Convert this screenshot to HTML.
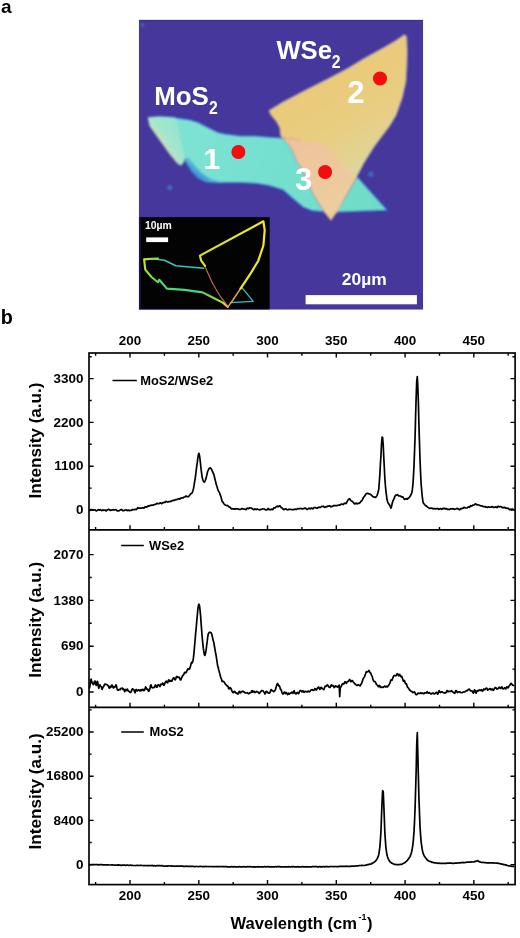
<!DOCTYPE html>
<html lang="en">
<head>
<meta charset="utf-8">
<title>Figure: MoS2/WSe2 heterostructure Raman spectra</title>
<style>
html,body{margin:0;padding:0;background:#fff;}
body{width:520px;height:938px;overflow:hidden;font-family:"Liberation Sans", Arial, Helvetica, sans-serif;}
svg{display:block;}
</style>
</head>
<body>
<svg width="520" height="938" viewBox="0 0 520 938">
<rect width="520" height="938" fill="#fff"/>
<defs>
<clipPath id="imgclip"><rect x="138.8" y="19.7" width="284.4" height="290"/></clipPath>
<clipPath id="insclip"><rect x="138.8" y="217" width="130.7" height="92.7"/></clipPath>
<filter id="soft" x="-5%" y="-5%" width="110%" height="110%"><feGaussianBlur stdDeviation="0.8"/></filter>
<filter id="soft2" x="-5%" y="-5%" width="110%" height="110%"><feGaussianBlur stdDeviation="0.45"/></filter>
<filter id="soft3" x="-20%" y="-20%" width="140%" height="140%"><feGaussianBlur stdDeviation="1.2"/></filter>
<linearGradient id="gW" gradientUnits="userSpaceOnUse" x1="300" y1="60" x2="370" y2="180">
<stop offset="0" stop-color="#ebc976"/><stop offset="0.55" stop-color="#e9cd80"/><stop offset="0.8" stop-color="#e2d392"/><stop offset="1" stop-color="#d6d9a6"/></linearGradient>
<linearGradient id="gM" gradientUnits="userSpaceOnUse" x1="150" y1="120" x2="390" y2="200">
<stop offset="0" stop-color="#80e3d2"/><stop offset="0.5" stop-color="#76e0d0"/><stop offset="1" stop-color="#70dcc6"/></linearGradient>
<linearGradient id="gFlap" gradientUnits="userSpaceOnUse" x1="156" y1="142" x2="176" y2="128">
<stop offset="0" stop-color="#d9dcae"/><stop offset="0.22" stop-color="#c6e0b8"/><stop offset="0.42" stop-color="#a6e6cc"/><stop offset="1" stop-color="#98e6d0"/></linearGradient>
<linearGradient id="gBand" gradientUnits="userSpaceOnUse" x1="192" y1="174" x2="199" y2="165">
<stop offset="0" stop-color="#3a86d4"/><stop offset="1" stop-color="#5cc4d6"/></linearGradient>
<linearGradient id="gOv" gradientUnits="userSpaceOnUse" x1="295" y1="140" x2="335" y2="215">
<stop offset="0" stop-color="#efc39c"/><stop offset="1" stop-color="#ecce9e"/></linearGradient>
<linearGradient id="gInsW" gradientUnits="userSpaceOnUse" x1="200" y1="258" x2="265" y2="250">
<stop offset="0" stop-color="#d6e622"/><stop offset="0.7" stop-color="#e6ec26"/><stop offset="1" stop-color="#f6e42a"/></linearGradient>
<linearGradient id="gInsM" gradientUnits="userSpaceOnUse" x1="144" y1="262" x2="228" y2="305">
<stop offset="0" stop-color="#c4e62c"/><stop offset="0.2" stop-color="#5edc52"/><stop offset="0.6" stop-color="#3fd47e"/><stop offset="0.85" stop-color="#8adc40"/><stop offset="1" stop-color="#e6e628"/></linearGradient>
</defs>
<g clip-path="url(#imgclip)">
<rect x="138.8" y="19.7" width="284.4" height="290" fill="#46379c"/><rect x="138.8" y="19.7" width="284.4" height="1.3" fill="#3a2c8c"/>
<g filter="url(#soft)">
<!-- MoS2 flake -->
<g transform="translate(0.2 1.1)">
<polygon fill="url(#gM)" stroke="#3450c4" stroke-width="1.5" stroke-linejoin="round" points="147.7,116.3 159.2,115.4 174.6,116.3 188,118.3 197.7,121 207.3,126 217,130.8 224.6,132.7 240,134.6 255,134.6 266.5,135.6 282.5,136.6 301,138.8 320,140.5 335,152.5 347.5,167.5 357.5,176 387.5,209.5 352,210.6 336,211.3 323.8,211 312.5,210 302.5,206 292.5,197.5 282.5,188.8 270,185 257,182.6 240,181.7 220.8,181.7 205.4,180.8 197.7,177 192,171 186,161.5 184.6,157.7 183.3,161.5 180.4,164.4 176.5,161.5 168.8,152 159.2,138.5 149.6,125"/>
<!-- thin-layer band -->
<polygon fill="url(#gBand)" points="184.6,157.7 188.5,156.5 196,166 203.5,173.5 212,178.2 222,180.5 222,181.7 205.4,180.8 197.7,177 192,171 186,161.5"/>
<!-- flap -->
<polygon fill="url(#gFlap)" points="147.7,116.3 159.2,115.4 174.6,116.3 176.5,119.5 180.4,138.5 184.6,157.7 183.3,161.5 180.4,164.4 176.5,161.5 168.8,152 159.2,138.5 149.6,125"/>
</g>
<!-- WSe2 flake -->
<polygon fill="url(#gW)" stroke="#3c48b8" stroke-width="1" stroke-linejoin="round" points="404.6,34.2 407,36.4 407.6,51 407.1,68.3 406.2,82 402.7,97.7 396.6,115 390,126 375,146 364.6,162.5 357.5,176 345,197.5 331,220.5 323.8,211 313.8,195 302.5,170 296.3,160 291.5,148.5 283.8,138.8 280,135.5 279.6,128 276,121.5 270.4,114.8 268.4,110.6 283,101.6 306.2,89.4 329.2,77.8 347.3,68.2 364.6,57.8 382,48.2 395.8,40.2"/>
<!-- overlap -->
<polygon fill="url(#gOv)" points="282.5,138.4 301,140.4 320,142.2 334.6,154 347,169 356.6,177.2 345,197.5 336.4,212.4 331,220.2 324.8,212.4 313.8,195 302.5,170 296.3,160 291.5,148.5 283.8,138.8"/>
<polygon fill="#e8cb90" points="325,212.7 336.2,212.7 331,220.2"/>
<path d="M281 137.7 L301 139.9" stroke="#e79d8c" stroke-width="1" fill="none"/>
</g>
<!-- specks -->
<g filter="url(#soft3)">
<circle cx="169.8" cy="187.5" r="2.6" fill="#3d6ec4"/>
<circle cx="371" cy="174" r="2.6" fill="#3d6ec4"/>
<circle cx="142.5" cy="25" r="1.6" fill="#4f72c6"/>
</g>
<!-- labels -->
<g filter="url(#soft2)" font-family='"Liberation Sans", Arial, Helvetica, sans-serif' font-weight="700" fill="#fff">
<text x="154.2" y="104.9" font-size="25" textLength="54.6" lengthAdjust="spacingAndGlyphs">MoS</text>
<text x="209.0" y="114.2" font-size="19" textLength="8.8" lengthAdjust="spacingAndGlyphs">2</text>
<text x="276.4" y="58.8" font-size="25" textLength="55.6" lengthAdjust="spacingAndGlyphs">WSe</text>
<text x="331.8" y="67.7" font-size="19" textLength="8.8" lengthAdjust="spacingAndGlyphs">2</text>
<text x="211.8" y="169.2" font-size="30" text-anchor="middle">1</text>
<text x="355.8" y="103" font-size="31" text-anchor="middle">2</text>
<text x="303.6" y="190" font-size="31" text-anchor="middle">3</text>
<circle cx="238.4" cy="152" r="7" fill="#f40808"/>
<circle cx="380" cy="78.5" r="7" fill="#f40808"/>
<circle cx="325.1" cy="172" r="7" fill="#f40808"/>
<text x="341.8" y="285.2" font-size="16" textLength="45" lengthAdjust="spacingAndGlyphs">20µm</text>
<rect x="305.6" y="295.1" width="111.3" height="9.2"/>
</g>
<!-- inset -->
<rect x="138.8" y="217" width="130.7" height="92.7" fill="#16124a"/><rect x="140.9" y="217.4" width="128.6" height="91.4" fill="#030303"/>
<g clip-path="url(#insclip)">
<g filter="url(#soft2)" fill="none" stroke-linejoin="round" stroke-linecap="round">
<polyline stroke="#39c4c4" stroke-width="1.6" points="151.7,258.7 164.4,260.2 175.8,265.8 189.8,267 203.7,268.3"/>
<polyline stroke="#35bfd0" stroke-width="1.3" points="241.8,287.4 253.2,301.3 230.4,302.6"/>
<polyline stroke="url(#gInsM)" stroke-width="2.1" points="158,258.6 151.7,258.7 144.1,259.4 145.3,269.6 151.7,277.2 158,282.3 159.3,279.7 166.9,288.6 184.7,289.9 202.5,292.4 212.6,297.5 222.8,302.6 227.9,306.9"/>
<polyline stroke="#cf6a4a" stroke-width="1.1" points="205,265.8 206.3,269.6 212.6,283.5 220.2,296.2 227.9,306.4"/>
<polyline stroke="#e8a050" stroke-width="1.5" points="240.5,288.6 232.9,300 227.9,306.9"/>
<polyline stroke="url(#gInsW)" stroke-width="2.2" points="205,265.8 201.2,260.7 199.9,255.6 263.4,221.3 264.7,230.2 263.4,245.5 258.3,260.7 250.7,273.4 240.5,288.6"/>
</g>
<g font-family='"Liberation Sans", Arial, Helvetica, sans-serif' font-weight="700" fill="#fff">
<text x="145.0" y="229.4" font-size="10.2" textLength="26.8" lengthAdjust="spacingAndGlyphs">10µm</text>
<rect x="146.2" y="237.4" width="21.9" height="4.7"/>
</g>
</g>
</g>

<defs><filter id="cb" x="-2%" y="-2%" width="104%" height="104%"><feGaussianBlur stdDeviation="0.32"/></filter></defs>
<g filter="url(#cb)">
<g fill="none" stroke="#000" stroke-width="1.65" stroke-linecap="butt">
<rect x="89.0" y="353.0" width="426.1" height="531.6"/>
<path d="M89.0 529.8H515.1M89.0 707.4H515.1"/>
</g>
<path d="M95.6 353.0v2.7M95.6 529.8v-2.7M95.6 707.4v-2.7M95.6 884.6v-2.7M130.0 353.0v4.6M130.0 529.8v-4.6M130.0 707.4v-4.6M130.0 884.6v-4.6M164.4 353.0v2.7M164.4 529.8v-2.7M164.4 707.4v-2.7M164.4 884.6v-2.7M198.8 353.0v4.6M198.8 529.8v-4.6M198.8 707.4v-4.6M198.8 884.6v-4.6M233.2 353.0v2.7M233.2 529.8v-2.7M233.2 707.4v-2.7M233.2 884.6v-2.7M267.5 353.0v4.6M267.5 529.8v-4.6M267.5 707.4v-4.6M267.5 884.6v-4.6M301.9 353.0v2.7M301.9 529.8v-2.7M301.9 707.4v-2.7M301.9 884.6v-2.7M336.3 353.0v4.6M336.3 529.8v-4.6M336.3 707.4v-4.6M336.3 884.6v-4.6M370.7 353.0v2.7M370.7 529.8v-2.7M370.7 707.4v-2.7M370.7 884.6v-2.7M405.1 353.0v4.6M405.1 529.8v-4.6M405.1 707.4v-4.6M405.1 884.6v-4.6M439.5 353.0v2.7M439.5 529.8v-2.7M439.5 707.4v-2.7M439.5 884.6v-2.7M473.8 353.0v4.6M473.8 529.8v-4.6M473.8 707.4v-4.6M473.8 884.6v-4.6M508.2 353.0v2.7M508.2 529.8v-2.7M508.2 707.4v-2.7M508.2 884.6v-2.7M89.0 510.0h4.6M515.1 510.0h-4.6M89.0 488.1h2.7M515.1 488.1h-2.7M89.0 466.2h4.6M515.1 466.2h-4.6M89.0 444.3h2.7M515.1 444.3h-2.7M89.0 422.4h4.6M515.1 422.4h-4.6M89.0 400.5h2.7M515.1 400.5h-2.7M89.0 378.6h4.6M515.1 378.6h-4.6M89.0 356.7h2.7M515.1 356.7h-2.7M89.0 692.0h4.6M515.1 692.0h-4.6M89.0 669.1h2.7M515.1 669.1h-2.7M89.0 646.2h4.6M515.1 646.2h-4.6M89.0 623.3h2.7M515.1 623.3h-2.7M89.0 600.4h4.6M515.1 600.4h-4.6M89.0 577.5h2.7M515.1 577.5h-2.7M89.0 554.6h4.6M515.1 554.6h-4.6M89.0 864.6h4.6M515.1 864.6h-4.6M89.0 842.5h2.7M515.1 842.5h-2.7M89.0 820.4h4.6M515.1 820.4h-4.6M89.0 798.3h2.7M515.1 798.3h-2.7M89.0 776.2h4.6M515.1 776.2h-4.6M89.0 754.1h2.7M515.1 754.1h-2.7M89.0 732.0h4.6M515.1 732.0h-4.6M89.0 709.9h2.7M515.1 709.9h-2.7" fill="none" stroke="#000" stroke-width="1.4"/>
<polyline points="89.5,510.6 90.0,510.4 90.6,509.8 91.1,509.5 91.7,509.6 92.2,509.9 92.8,509.9 93.3,509.9 93.9,509.9 94.4,509.8 95.0,509.8 95.5,510.4 96.1,510.8 96.6,510.8 97.2,510.4 97.7,510.0 98.3,509.7 98.8,509.8 99.4,510.1 99.9,509.9 100.5,509.7 101.0,510.2 101.6,510.7 102.1,510.4 102.7,509.9 103.2,510.0 103.8,510.3 104.3,510.2 104.9,510.0 105.4,510.2 106.0,510.8 106.5,510.8 107.1,510.1 107.6,509.8 108.2,509.6 108.7,509.3 109.3,509.5 109.8,510.0 110.4,510.5 110.9,510.2 111.5,509.9 112.0,510.2 112.6,510.0 113.1,509.6 113.7,509.8 114.2,509.9 114.8,509.9 115.3,509.8 115.9,509.6 116.4,510.0 117.0,510.7 117.5,510.8 118.1,510.9 118.6,511.0 119.2,510.7 119.7,510.2 120.3,510.0 120.8,509.7 121.4,509.4 121.9,509.7 122.5,510.4 123.0,510.7 123.6,510.6 124.1,510.6 124.7,510.2 125.2,510.1 125.8,510.0 126.3,509.9 126.9,510.4 127.4,510.6 128.0,510.2 128.5,510.1 129.1,510.4 129.6,510.6 130.2,510.5 130.7,510.3 131.3,510.3 131.8,509.8 132.4,509.7 132.9,509.8 133.5,509.5 134.0,509.6 134.6,509.6 135.1,509.3 135.7,509.4 136.2,509.6 136.8,509.2 137.3,508.3 137.9,507.7 138.4,508.0 139.0,508.3 139.5,508.2 140.1,508.2 140.6,508.2 141.2,508.1 141.7,508.1 142.3,508.0 142.8,507.6 143.4,507.8 143.9,508.2 144.5,507.7 145.0,506.9 145.6,506.8 146.1,507.1 146.7,507.1 147.2,506.6 147.8,506.0 148.3,505.9 148.9,506.1 149.4,505.9 150.0,505.5 150.5,505.3 151.1,505.3 151.6,505.2 152.2,505.0 152.7,505.1 153.3,505.2 153.8,504.8 154.4,504.6 154.9,504.6 155.5,504.3 156.0,504.1 156.6,503.6 157.1,503.3 157.7,503.6 158.2,503.8 158.8,503.6 159.3,503.4 159.9,503.1 160.4,502.9 161.0,503.2 161.5,503.7 162.1,503.3 162.6,502.8 163.2,502.7 163.7,502.4 164.3,502.4 164.8,502.5 165.4,502.0 165.9,501.4 166.5,501.5 167.0,501.8 167.6,502.1 168.1,502.0 168.7,501.7 169.2,501.7 169.8,501.6 170.3,501.4 170.9,501.4 171.4,501.1 172.0,500.8 172.5,500.7 173.1,500.4 173.6,500.3 174.2,500.4 174.7,500.1 175.3,499.8 175.8,499.7 176.4,499.7 176.9,499.6 177.5,499.2 178.0,499.0 178.6,498.7 179.1,498.7 179.7,499.2 180.2,498.6 180.8,498.0 181.3,498.2 181.9,497.9 182.4,497.9 183.0,497.9 183.5,497.4 184.1,497.1 184.6,497.0 185.2,496.7 185.7,496.2 186.3,496.1 186.8,496.5 187.4,496.7 187.9,496.7 188.5,496.6 189.0,496.0 189.6,495.3 190.1,494.7 190.7,493.9 191.2,493.5 191.8,493.2 192.3,492.5 192.9,491.0 193.4,488.9 194.0,485.9 194.5,482.4 195.1,479.1 195.6,475.3 196.2,470.7 196.7,466.3 197.3,462.4 197.8,458.1 198.4,454.7 198.9,453.3 199.5,455.4 200.0,459.2 200.6,464.6 201.1,469.4 201.7,473.9 202.2,477.6 202.8,479.6 203.3,481.1 203.9,482.1 204.4,482.0 205.0,481.1 205.5,479.8 206.1,478.1 206.6,476.1 207.2,473.4 207.7,471.3 208.3,470.2 208.8,469.0 209.4,468.2 209.9,467.9 210.5,468.1 211.0,468.6 211.6,469.5 212.1,470.6 212.7,471.9 213.2,473.2 213.8,474.4 214.3,476.5 214.9,478.8 215.4,480.9 216.0,483.2 216.5,485.2 217.1,486.8 217.6,488.8 218.2,490.6 218.7,491.4 219.3,492.3 219.8,493.6 220.4,495.2 220.9,496.8 221.5,498.9 222.0,501.0 222.6,501.9 223.1,502.4 223.7,503.4 224.2,504.1 224.8,504.6 225.3,505.1 225.9,505.3 226.4,505.5 227.0,505.7 227.5,505.4 228.1,505.9 228.6,506.6 229.2,506.9 229.7,507.1 230.3,507.4 230.8,508.1 231.4,509.0 231.9,508.9 232.5,508.7 233.0,508.9 233.6,508.8 234.1,508.9 234.7,509.2 235.2,509.1 235.8,508.7 236.3,508.9 236.9,508.9 237.4,508.8 238.0,509.0 238.5,509.1 239.1,509.4 239.6,509.5 240.2,509.3 240.7,509.3 241.3,509.0 241.8,508.6 242.4,508.6 242.9,508.9 243.5,509.0 244.0,509.1 244.6,509.1 245.1,509.1 245.7,509.7 246.2,509.6 246.8,508.7 247.3,508.2 247.9,508.3 248.4,508.6 249.0,508.5 249.5,507.9 250.1,507.8 250.6,508.0 251.2,508.0 251.7,508.3 252.3,508.7 252.8,509.0 253.4,509.6 253.9,509.6 254.5,509.0 255.0,508.8 255.6,509.3 256.1,509.7 256.7,509.2 257.2,508.9 257.8,509.3 258.3,509.5 258.9,509.6 259.4,509.9 260.0,509.9 260.5,509.5 261.1,509.3 261.6,509.3 262.2,509.1 262.7,508.8 263.3,509.0 263.8,509.0 264.4,509.0 264.9,509.4 265.5,509.9 266.0,510.0 266.6,509.9 267.1,509.7 267.7,508.9 268.2,508.5 268.8,509.1 269.3,509.7 269.9,509.7 270.4,509.8 271.0,509.5 271.5,509.1 272.1,509.5 272.6,509.7 273.2,508.8 273.7,507.9 274.3,507.9 274.8,508.0 275.4,507.7 275.9,507.2 276.5,506.5 277.0,506.0 277.6,506.3 278.1,506.8 278.7,506.3 279.2,505.9 279.8,505.9 280.3,506.1 280.9,507.0 281.4,507.7 282.0,507.9 282.5,508.5 283.1,509.1 283.6,509.4 284.2,509.6 284.7,509.3 285.3,508.8 285.8,508.8 286.4,509.2 286.9,509.5 287.5,509.8 288.0,509.8 288.6,509.4 289.1,509.3 289.7,509.4 290.2,509.5 290.8,509.4 291.3,509.5 291.9,509.7 292.4,509.7 293.0,509.6 293.5,509.7 294.1,509.6 294.6,509.2 295.2,509.2 295.7,509.3 296.3,509.4 296.8,509.5 297.4,508.9 297.9,508.5 298.5,508.7 299.0,508.8 299.6,508.6 300.1,508.6 300.7,508.5 301.2,508.4 301.8,508.8 302.3,508.9 302.9,508.7 303.4,508.6 304.0,508.7 304.5,508.3 305.1,507.9 305.6,508.2 306.2,508.8 306.7,509.3 307.3,509.5 307.8,509.1 308.4,508.5 308.9,508.2 309.5,508.4 310.0,508.8 310.6,508.7 311.1,508.2 311.7,508.2 312.2,508.7 312.8,508.8 313.3,508.3 313.9,507.7 314.4,507.5 315.0,507.5 315.5,507.6 316.1,508.0 316.6,508.1 317.2,508.1 317.7,507.9 318.3,507.5 318.8,507.3 319.4,507.2 319.9,507.3 320.5,507.5 321.0,507.0 321.6,506.4 322.1,506.5 322.7,506.4 323.2,506.2 323.8,506.5 324.3,507.2 324.9,507.3 325.4,506.9 326.0,507.0 326.5,506.8 327.1,506.3 327.6,506.2 328.2,506.3 328.7,506.1 329.3,505.7 329.8,505.9 330.4,506.5 330.9,506.8 331.5,506.6 332.0,506.3 332.6,506.4 333.1,506.0 333.7,505.5 334.2,505.6 334.8,505.6 335.3,505.5 335.9,505.6 336.4,505.7 337.0,505.5 337.5,505.3 338.1,505.4 338.6,505.2 339.2,505.1 339.7,505.2 340.3,504.8 340.8,504.4 341.4,504.2 341.9,503.9 342.5,504.3 343.0,504.6 343.6,504.1 344.1,503.6 344.7,503.3 345.2,503.3 345.8,503.6 346.3,503.1 346.9,502.0 347.4,501.1 348.0,500.1 348.5,499.3 349.1,498.8 349.6,498.9 350.2,499.6 350.7,500.4 351.3,501.0 351.8,501.2 352.4,501.4 352.9,502.0 353.5,502.6 354.0,503.4 354.6,503.9 355.1,503.8 355.7,503.2 356.2,503.0 356.8,503.7 357.3,503.8 357.9,503.3 358.4,503.4 359.0,503.4 359.5,502.9 360.1,502.7 360.6,501.8 361.2,501.1 361.7,500.9 362.3,499.9 362.8,498.8 363.4,497.8 363.9,496.9 364.5,496.4 365.0,495.5 365.6,494.5 366.1,493.9 366.7,493.6 367.2,493.4 367.8,493.3 368.3,493.6 368.9,493.8 369.4,493.9 370.0,494.2 370.5,494.3 371.1,494.8 371.6,495.5 372.2,495.9 372.7,496.4 373.3,496.7 373.8,496.9 374.4,497.1 374.9,497.4 375.5,497.5 376.0,496.9 376.6,496.2 377.1,495.3 377.7,493.6 378.2,491.8 378.8,488.8 379.3,482.1 379.9,473.9 380.4,464.3 381.0,454.9 381.5,444.2 382.1,437.0 382.6,437.6 383.2,444.5 383.7,455.9 384.3,467.1 384.8,477.7 385.4,485.5 385.9,491.1 386.5,495.6 387.0,499.5 387.6,501.6 388.1,502.9 388.7,503.7 389.2,504.5 389.8,505.5 390.3,506.7 390.9,508.2 391.4,507.2 392.0,504.3 392.5,502.2 393.1,500.5 393.6,499.6 394.2,498.4 394.7,496.8 395.3,495.6 395.8,495.0 396.4,495.1 396.9,495.1 397.5,494.7 398.0,495.1 398.6,495.9 399.1,495.9 399.7,496.0 400.2,496.1 400.8,496.1 401.3,496.7 401.9,497.1 402.4,496.9 403.0,497.1 403.5,497.9 404.1,498.8 404.6,499.3 405.2,499.2 405.7,498.8 406.3,498.7 406.8,499.2 407.4,499.2 407.9,498.5 408.5,498.0 409.0,497.7 409.6,497.1 410.1,496.2 410.7,495.3 411.2,494.2 411.8,492.8 412.3,489.9 412.9,484.7 413.4,477.2 414.0,465.9 414.5,452.6 415.1,436.0 415.6,416.0 416.2,396.0 416.7,381.5 417.3,376.6 417.8,386.5 418.4,402.9 418.9,423.9 419.5,443.1 420.0,459.5 420.6,473.4 421.1,483.6 421.7,490.5 422.2,496.1 422.8,500.6 423.3,503.1 423.9,503.7 424.4,504.3 425.0,505.1 425.5,505.6 426.1,505.8 426.6,506.1 427.2,506.8 427.7,507.3 428.3,507.5 428.8,507.9 429.4,508.4 429.9,508.5 430.5,508.2 431.0,508.0 431.6,508.0 432.1,508.3 432.7,508.7 433.2,508.8 433.8,508.6 434.3,508.5 434.9,508.6 435.4,508.9 436.0,508.9 436.5,508.7 437.1,508.6 437.6,508.5 438.2,508.9 438.7,509.4 439.3,509.2 439.8,508.8 440.4,508.5 440.9,508.7 441.5,509.2 442.0,509.3 442.6,508.6 443.1,508.4 443.7,508.6 444.2,508.4 444.8,508.3 445.3,508.8 445.9,508.9 446.4,508.6 447.0,508.9 447.5,509.4 448.1,509.3 448.6,509.3 449.2,509.6 449.7,509.3 450.3,508.9 450.8,508.9 451.4,508.8 451.9,508.8 452.5,508.7 453.0,508.8 453.6,508.9 454.1,509.2 454.7,509.3 455.2,509.0 455.8,509.0 456.3,508.8 456.9,508.4 457.4,508.6 458.0,508.9 458.5,508.9 459.1,509.5 459.6,509.8 460.2,509.2 460.7,508.7 461.3,508.8 461.8,508.6 462.4,508.2 462.9,508.4 463.5,507.9 464.0,507.2 464.6,507.4 465.1,507.8 465.7,507.9 466.2,508.0 466.8,508.0 467.3,507.7 467.9,507.2 468.4,506.8 469.0,507.2 469.5,507.3 470.1,506.5 470.6,505.7 471.2,505.8 471.7,506.2 472.3,505.7 472.8,505.1 473.4,505.1 473.9,505.1 474.5,504.7 475.0,504.1 475.6,503.9 476.1,504.3 476.7,504.7 477.2,504.7 477.8,504.8 478.3,504.9 478.9,505.0 479.4,505.2 480.0,505.5 480.5,505.9 481.1,505.9 481.6,505.8 482.2,506.0 482.7,506.3 483.3,506.6 483.8,506.7 484.4,506.6 484.9,506.5 485.5,507.0 486.0,507.2 486.6,507.1 487.1,507.4 487.7,507.5 488.2,506.9 488.8,506.8 489.3,507.2 489.9,507.1 490.4,507.1 491.0,507.2 491.5,506.9 492.1,506.6 492.6,506.7 493.2,507.1 493.7,507.4 494.3,507.4 494.8,507.2 495.4,507.1 495.9,506.9 496.5,507.1 497.0,507.5 497.6,507.0 498.1,506.2 498.7,506.5 499.2,507.0 499.8,506.7 500.3,506.6 500.9,506.8 501.4,506.9 502.0,507.5 502.5,507.8 503.1,507.5 503.6,507.6 504.2,507.4 504.7,507.3 505.3,507.8 505.8,508.1 506.4,508.2 506.9,508.4 507.5,508.2 508.0,508.2 508.6,508.6 509.1,509.3 509.7,509.7 510.2,509.5 510.8,509.1 511.3,509.4 511.9,509.4 512.4,509.0 513.0,509.2 513.5,509.7" fill="none" stroke="#000" stroke-width="1.70" stroke-linejoin="round" stroke-linecap="round"/>
<polyline points="89.5,688.0 90.0,685.4 90.6,681.0 91.1,679.1 91.7,681.6 92.2,683.1 92.8,683.2 93.3,684.6 93.9,684.1 94.4,681.6 95.0,681.0 95.5,683.0 96.1,685.4 96.6,684.7 97.2,681.4 97.7,681.9 98.3,686.4 98.8,688.3 99.4,685.7 99.9,684.7 100.5,686.2 101.0,686.3 101.6,687.7 102.1,689.4 102.7,688.0 103.2,686.8 103.8,686.3 104.3,684.9 104.9,684.1 105.4,684.3 106.0,684.4 106.5,684.5 107.1,684.7 107.6,685.2 108.2,685.9 108.7,686.6 109.3,688.1 109.8,687.8 110.4,686.1 110.9,687.3 111.5,686.3 112.0,685.0 112.6,686.0 113.1,687.8 113.7,688.0 114.2,686.8 114.8,687.1 115.3,686.8 115.9,684.8 116.4,685.6 117.0,688.4 117.5,690.0 118.1,690.3 118.6,689.9 119.2,689.3 119.7,689.7 120.3,689.7 120.8,688.3 121.4,688.4 121.9,688.3 122.5,688.1 123.0,689.3 123.6,689.0 124.1,690.1 124.7,691.6 125.2,689.5 125.8,689.5 126.3,690.5 126.9,689.3 127.4,689.2 128.0,690.6 128.5,691.2 129.1,691.3 129.6,691.7 130.2,692.5 130.7,692.5 131.3,691.4 131.8,690.0 132.4,688.8 132.9,688.9 133.5,689.7 134.0,689.9 134.6,691.9 135.1,692.8 135.7,690.5 136.2,689.5 136.8,690.5 137.3,691.0 137.9,690.3 138.4,689.9 139.0,689.9 139.5,690.6 140.1,691.0 140.6,689.9 141.2,689.7 141.7,690.6 142.3,690.1 142.8,689.3 143.4,690.1 143.9,690.7 144.5,690.2 145.0,688.7 145.6,686.9 146.1,687.7 146.7,689.1 147.2,688.9 147.8,689.2 148.3,691.1 148.9,691.2 149.4,690.0 150.0,688.7 150.5,685.6 151.1,684.9 151.6,687.1 152.2,687.7 152.7,687.8 153.3,687.7 153.8,687.3 154.4,687.4 154.9,686.2 155.5,685.0 156.0,685.7 156.6,687.2 157.1,687.2 157.7,685.4 158.2,684.7 158.8,684.8 159.3,685.5 159.9,686.6 160.4,685.6 161.0,684.2 161.5,684.5 162.1,684.4 162.6,683.1 163.2,683.6 163.7,685.3 164.3,684.8 164.8,683.2 165.4,682.2 165.9,681.4 166.5,681.2 167.0,682.5 167.6,682.8 168.1,681.4 168.7,679.9 169.2,680.2 169.8,681.4 170.3,681.1 170.9,680.5 171.4,681.1 172.0,681.0 172.5,679.5 173.1,678.4 173.6,677.8 174.2,678.0 174.7,679.5 175.3,679.9 175.8,678.6 176.4,676.8 176.9,676.5 177.5,677.2 178.0,677.4 178.6,677.2 179.1,677.1 179.7,678.3 180.2,679.8 180.8,679.8 181.3,678.6 181.9,677.1 182.4,676.1 183.0,675.4 183.5,674.9 184.1,673.7 184.6,672.3 185.2,672.3 185.7,672.8 186.3,672.5 186.8,671.0 187.4,669.7 187.9,668.9 188.5,668.8 189.0,669.4 189.6,668.8 190.1,667.4 190.7,665.6 191.2,663.1 191.8,662.1 192.3,662.8 192.9,661.2 193.4,657.9 194.0,652.8 194.5,646.6 195.1,640.0 195.6,633.8 196.2,628.0 196.7,621.9 197.3,615.3 197.8,610.0 198.4,605.6 198.9,604.2 199.5,605.6 200.0,609.6 200.6,615.9 201.1,623.2 201.7,630.9 202.2,637.3 202.8,643.5 203.3,648.2 203.9,652.0 204.4,654.8 205.0,655.4 205.5,653.4 206.1,650.2 206.6,646.0 207.2,641.5 207.7,637.1 208.3,633.8 208.8,633.1 209.4,632.4 209.9,632.2 210.5,632.5 211.0,632.8 211.6,633.6 212.1,635.6 212.7,638.2 213.2,640.6 213.8,642.4 214.3,645.5 214.9,649.0 215.4,652.0 216.0,655.0 216.5,658.2 217.1,662.1 217.6,665.4 218.2,667.5 218.7,669.7 219.3,671.9 219.8,674.0 220.4,676.0 220.9,677.7 221.5,679.3 222.0,681.3 222.6,681.4 223.1,681.4 223.7,681.6 224.2,682.1 224.8,683.1 225.3,684.1 225.9,684.4 226.4,685.2 227.0,685.8 227.5,685.8 228.1,686.8 228.6,688.6 229.2,688.9 229.7,687.7 230.3,687.7 230.8,688.3 231.4,689.5 231.9,691.1 232.5,691.9 233.0,692.6 233.6,692.7 234.1,691.6 234.7,691.3 235.2,692.2 235.8,692.8 236.3,692.8 236.9,693.3 237.4,694.0 238.0,694.0 238.5,693.0 239.1,691.5 239.6,691.4 240.2,692.9 240.7,692.9 241.3,691.8 241.8,691.6 242.4,691.3 242.9,691.2 243.5,691.8 244.0,691.9 244.6,692.3 245.1,692.9 245.7,692.9 246.2,693.0 246.8,693.0 247.3,692.7 247.9,693.2 248.4,693.8 249.0,693.6 249.5,693.2 250.1,692.6 250.6,692.7 251.2,692.5 251.7,690.9 252.3,690.7 252.8,692.1 253.4,691.7 253.9,691.2 254.5,692.1 255.0,692.5 255.6,692.4 256.1,691.6 256.7,691.4 257.2,692.0 257.8,692.0 258.3,692.3 258.9,693.3 259.4,693.3 260.0,692.5 260.5,691.9 261.1,691.3 261.6,690.5 262.2,690.6 262.7,690.8 263.3,691.1 263.8,691.9 264.4,692.7 264.9,694.0 265.5,693.3 266.0,691.5 266.6,691.3 267.1,691.8 267.7,692.4 268.2,692.9 268.8,693.1 269.3,693.1 269.9,692.7 270.4,691.2 271.0,689.6 271.5,689.9 272.1,690.7 272.6,690.7 273.2,691.1 273.7,691.7 274.3,691.3 274.8,690.5 275.4,689.7 275.9,688.1 276.5,685.9 277.0,684.2 277.6,683.4 278.1,684.7 278.7,686.0 279.2,685.6 279.8,686.8 280.3,689.0 280.9,689.6 281.4,690.5 282.0,692.5 282.5,693.8 283.1,694.1 283.6,693.3 284.2,692.1 284.7,692.8 285.3,693.5 285.8,692.4 286.4,692.5 286.9,693.8 287.5,694.5 288.0,693.6 288.6,693.2 289.1,694.2 289.7,693.9 290.2,693.1 290.8,693.1 291.3,692.6 291.9,692.2 292.4,693.0 293.0,693.4 293.5,691.5 294.1,690.7 294.6,692.4 295.2,693.5 295.7,694.0 296.3,693.9 296.8,692.7 297.4,692.4 297.9,693.2 298.5,693.7 299.0,693.1 299.6,691.3 300.1,690.5 300.7,690.6 301.2,690.9 301.8,691.8 302.3,691.7 302.9,690.8 303.4,691.3 304.0,692.4 304.5,692.0 305.1,691.3 305.6,691.4 306.2,691.5 306.7,691.9 307.3,692.0 307.8,691.3 308.4,691.2 308.9,691.6 309.5,691.8 310.0,691.4 310.6,690.4 311.1,690.0 311.7,689.8 312.2,689.7 312.8,690.2 313.3,690.5 313.9,690.2 314.4,689.4 315.0,688.6 315.5,689.1 316.1,690.0 316.6,689.7 317.2,688.5 317.7,687.9 318.3,687.2 318.8,687.1 319.4,688.7 319.9,689.4 320.5,688.3 321.0,687.3 321.6,687.6 322.1,688.6 322.7,688.8 323.2,689.2 323.8,689.7 324.3,688.5 324.9,686.6 325.4,686.1 326.0,686.3 326.5,685.9 327.1,685.0 327.6,684.9 328.2,685.9 328.7,686.8 329.3,687.2 329.8,687.5 330.4,687.1 330.9,685.3 331.5,684.8 332.0,685.9 332.6,685.7 333.1,685.5 333.7,686.5 334.2,687.5 334.8,687.1 335.3,686.0 335.9,685.9 336.4,686.3 337.0,686.8 337.5,687.1 338.1,686.7 338.6,685.7 339.2,685.2 339.7,696.7 340.3,687.8 340.8,687.1 341.4,686.2 341.9,684.8 342.5,683.9 343.0,683.7 343.6,684.1 344.1,683.7 344.7,682.0 345.2,681.7 345.8,682.6 346.3,683.4 346.9,682.5 347.4,681.6 348.0,681.5 348.5,681.1 349.1,680.2 349.6,679.5 350.2,680.3 350.7,681.7 351.3,681.6 351.8,680.7 352.4,680.6 352.9,681.5 353.5,682.2 354.0,682.8 354.6,683.7 355.1,683.9 355.7,684.4 356.2,685.1 356.8,685.4 357.3,685.5 357.9,684.9 358.4,684.7 359.0,685.2 359.5,685.7 360.1,685.9 360.6,685.2 361.2,684.0 361.7,683.1 362.3,681.6 362.8,679.7 363.4,678.4 363.9,677.6 364.5,676.6 365.0,675.3 365.6,673.8 366.1,672.1 366.7,671.6 367.2,672.0 367.8,671.8 368.3,671.2 368.9,670.5 369.4,671.3 370.0,672.6 370.5,672.9 371.1,674.0 371.6,675.4 372.2,676.4 372.7,678.5 373.3,680.4 373.8,681.3 374.4,681.4 374.9,681.5 375.5,682.3 376.0,683.5 376.6,684.5 377.1,685.0 377.7,685.6 378.2,686.6 378.8,686.4 379.3,685.4 379.9,685.9 380.4,687.4 381.0,687.5 381.5,687.0 382.1,687.0 382.6,687.4 383.2,687.4 383.7,687.0 384.3,686.4 384.8,686.1 385.4,686.7 385.9,687.0 386.5,686.3 387.0,686.7 387.6,686.8 388.1,686.0 388.7,685.4 389.2,684.4 389.8,683.4 390.3,681.7 390.9,680.0 391.4,680.3 392.0,680.2 392.5,678.7 393.1,677.3 393.6,676.1 394.2,675.5 394.7,675.7 395.3,675.6 395.8,675.8 396.4,675.4 396.9,674.0 397.5,673.6 398.0,674.9 398.6,675.8 399.1,674.9 399.7,674.4 400.2,675.7 400.8,676.6 401.3,676.2 401.9,676.6 402.4,678.2 403.0,680.3 403.5,681.3 404.1,680.5 404.6,680.8 405.2,683.0 405.7,683.9 406.3,683.6 406.8,685.1 407.4,686.9 407.9,687.5 408.5,688.2 409.0,689.1 409.6,689.9 410.1,690.4 410.7,691.0 411.2,691.5 411.8,691.4 412.3,691.9 412.9,692.7 413.4,692.3 414.0,692.1 414.5,691.9 415.1,692.7 415.6,694.2 416.2,694.6 416.7,694.7 417.3,694.2 417.8,693.3 418.4,693.0 418.9,693.2 419.5,693.5 420.0,693.5 420.6,692.9 421.1,693.1 421.7,693.4 422.2,693.0 422.8,693.1 423.3,693.6 423.9,693.6 424.4,693.2 425.0,692.8 425.5,692.8 426.1,693.1 426.6,692.5 427.2,691.7 427.7,692.4 428.3,693.3 428.8,693.0 429.4,692.6 429.9,693.2 430.5,693.7 431.0,693.9 431.6,693.9 432.1,693.3 432.7,693.0 433.2,693.1 433.8,693.7 434.3,694.0 434.9,693.7 435.4,693.1 436.0,692.6 436.5,692.4 437.1,692.8 437.6,694.1 438.2,693.6 438.7,691.1 439.3,690.7 439.8,692.3 440.4,692.6 440.9,692.2 441.5,691.8 442.0,691.8 442.6,692.2 443.1,692.5 443.7,692.8 444.2,693.0 444.8,692.7 445.3,692.9 445.9,692.8 446.4,692.0 447.0,690.7 447.5,690.7 448.1,691.8 448.6,691.5 449.2,691.3 449.7,691.4 450.3,691.4 450.8,691.3 451.4,690.7 451.9,691.0 452.5,691.9 453.0,692.0 453.6,692.4 454.1,693.1 454.7,693.3 455.2,692.1 455.8,690.6 456.3,690.7 456.9,691.8 457.4,692.7 458.0,692.3 458.5,691.8 459.1,691.8 459.6,691.9 460.2,692.1 460.7,692.4 461.3,692.7 461.8,692.7 462.4,692.5 462.9,692.2 463.5,692.0 464.0,691.9 464.6,691.9 465.1,691.7 465.7,691.2 466.2,690.8 466.8,691.0 467.3,690.4 467.9,689.8 468.4,689.8 469.0,689.1 469.5,689.3 470.1,690.3 470.6,690.9 471.2,690.9 471.7,690.8 472.3,691.2 472.8,692.5 473.4,693.2 473.9,691.6 474.5,689.8 475.0,690.3 475.6,692.4 476.1,693.2 476.7,691.5 477.2,690.6 477.8,691.2 478.3,690.7 478.9,690.2 479.4,690.3 480.0,689.8 480.5,690.3 481.1,690.7 481.6,689.7 482.2,690.1 482.7,691.1 483.3,690.1 483.8,689.0 484.4,689.5 484.9,689.8 485.5,688.9 486.0,688.3 486.6,688.1 487.1,688.8 487.7,690.0 488.2,689.7 488.8,689.3 489.3,689.3 489.9,688.6 490.4,688.6 491.0,689.8 491.5,689.8 492.1,689.0 492.6,689.7 493.2,690.3 493.7,689.8 494.3,688.8 494.8,688.0 495.4,687.5 495.9,687.6 496.5,688.5 497.0,689.1 497.6,688.9 498.1,688.5 498.7,688.0 499.2,687.2 499.8,687.4 500.3,688.3 500.9,688.3 501.4,687.3 502.0,687.0 502.5,688.2 503.1,688.8 503.6,688.9 504.2,688.4 504.7,687.6 505.3,688.3 505.8,688.8 506.4,687.5 506.9,686.8 507.5,687.2 508.0,687.9 508.6,687.1 509.1,685.8 509.7,685.3 510.2,684.5 510.8,683.4 511.3,683.4 511.9,684.3 512.4,685.1 513.0,685.4 513.5,685.4" fill="none" stroke="#000" stroke-width="1.70" stroke-linejoin="round" stroke-linecap="round"/>
<polyline points="89.5,864.6 90.0,864.7 90.6,864.8 91.1,864.7 91.7,864.7 92.2,864.7 92.8,864.6 93.3,864.6 93.9,864.6 94.4,864.6 95.0,864.6 95.5,864.6 96.1,864.7 96.6,864.7 97.2,864.6 97.7,864.6 98.3,864.9 98.8,864.9 99.4,864.7 99.9,864.7 100.5,864.7 101.0,864.6 101.6,864.6 102.1,864.7 102.7,864.9 103.2,864.9 103.8,864.8 104.3,864.8 104.9,864.8 105.4,864.8 106.0,864.9 106.5,864.8 107.1,864.8 107.6,864.9 108.2,864.9 108.7,864.9 109.3,865.0 109.8,865.0 110.4,865.0 110.9,865.0 111.5,864.9 112.0,864.9 112.6,864.9 113.1,865.0 113.7,865.1 114.2,865.1 114.8,865.2 115.3,865.1 115.9,865.0 116.4,865.1 117.0,865.2 117.5,865.1 118.1,864.9 118.6,864.9 119.2,865.1 119.7,865.2 120.3,865.2 120.8,865.3 121.4,865.3 121.9,865.2 122.5,865.2 123.0,865.2 123.6,865.2 124.1,865.1 124.7,865.2 125.2,865.3 125.8,865.3 126.3,865.2 126.9,865.0 127.4,865.1 128.0,865.2 128.5,865.4 129.1,865.5 129.6,865.3 130.2,865.1 130.7,865.2 131.3,865.3 131.8,865.3 132.4,865.3 132.9,865.4 133.5,865.5 134.0,865.5 134.6,865.5 135.1,865.5 135.7,865.6 136.2,865.5 136.8,865.4 137.3,865.4 137.9,865.3 138.4,865.4 139.0,865.5 139.5,865.5 140.1,865.4 140.6,865.4 141.2,865.4 141.7,865.5 142.3,865.5 142.8,865.5 143.4,865.6 143.9,865.6 144.5,865.6 145.0,865.5 145.6,865.5 146.1,865.6 146.7,865.7 147.2,865.7 147.8,865.7 148.3,865.7 148.9,865.6 149.4,865.6 150.0,865.6 150.5,865.6 151.1,865.7 151.6,865.6 152.2,865.4 152.7,865.5 153.3,865.8 153.8,865.8 154.4,865.7 154.9,865.7 155.5,865.9 156.0,865.8 156.6,865.7 157.1,865.6 157.7,865.5 158.2,865.6 158.8,865.6 159.3,865.5 159.9,865.6 160.4,865.7 161.0,865.8 161.5,865.7 162.1,865.7 162.6,865.8 163.2,866.0 163.7,866.1 164.3,866.1 164.8,866.1 165.4,866.0 165.9,866.1 166.5,866.2 167.0,866.2 167.6,866.1 168.1,865.9 168.7,865.8 169.2,866.0 169.8,866.0 170.3,866.0 170.9,865.9 171.4,865.9 172.0,866.1 172.5,866.1 173.1,866.0 173.6,866.1 174.2,866.1 174.7,866.2 175.3,866.3 175.8,866.1 176.4,866.0 176.9,866.1 177.5,866.1 178.0,866.2 178.6,866.2 179.1,866.2 179.7,866.2 180.2,866.2 180.8,866.2 181.3,866.2 181.9,866.2 182.4,866.2 183.0,866.2 183.5,866.3 184.1,866.4 184.6,866.4 185.2,866.3 185.7,866.3 186.3,866.2 186.8,866.2 187.4,866.3 187.9,866.4 188.5,866.4 189.0,866.3 189.6,866.3 190.1,866.3 190.7,866.3 191.2,866.4 191.8,866.4 192.3,866.3 192.9,866.3 193.4,866.3 194.0,866.5 194.5,866.6 195.1,866.6 195.6,866.5 196.2,866.4 196.7,866.5 197.3,866.5 197.8,866.5 198.4,866.6 198.9,866.6 199.5,866.5 200.0,866.4 200.6,866.3 201.1,866.4 201.7,866.5 202.2,866.6 202.8,866.6 203.3,866.6 203.9,866.6 204.4,866.7 205.0,866.5 205.5,866.4 206.1,866.5 206.6,866.6 207.2,866.5 207.7,866.5 208.3,866.5 208.8,866.6 209.4,866.6 209.9,866.5 210.5,866.5 211.0,866.5 211.6,866.6 212.1,866.7 212.7,866.6 213.2,866.6 213.8,866.6 214.3,866.6 214.9,866.7 215.4,866.7 216.0,866.6 216.5,866.6 217.1,866.6 217.6,866.7 218.2,866.7 218.7,866.6 219.3,866.6 219.8,866.6 220.4,866.5 220.9,866.5 221.5,866.6 222.0,866.7 222.6,866.7 223.1,866.6 223.7,866.6 224.2,866.6 224.8,866.5 225.3,866.6 225.9,866.7 226.4,866.7 227.0,866.8 227.5,866.8 228.1,866.9 228.6,866.9 229.2,866.9 229.7,866.8 230.3,866.8 230.8,866.8 231.4,866.7 231.9,866.7 232.5,866.8 233.0,866.8 233.6,866.8 234.1,866.7 234.7,866.7 235.2,866.8 235.8,866.9 236.3,866.9 236.9,866.8 237.4,866.8 238.0,866.9 238.5,866.8 239.1,866.7 239.6,866.7 240.2,866.8 240.7,866.8 241.3,866.8 241.8,866.8 242.4,866.8 242.9,866.8 243.5,866.7 244.0,866.6 244.6,866.8 245.1,866.8 245.7,866.8 246.2,866.8 246.8,866.8 247.3,866.7 247.9,866.6 248.4,866.7 249.0,866.8 249.5,866.7 250.1,866.6 250.6,866.7 251.2,866.8 251.7,866.8 252.3,866.8 252.8,866.8 253.4,866.8 253.9,866.8 254.5,866.9 255.0,867.1 255.6,867.0 256.1,866.8 256.7,866.8 257.2,866.9 257.8,866.9 258.3,866.7 258.9,866.7 259.4,866.9 260.0,866.9 260.5,866.8 261.1,866.9 261.6,866.9 262.2,866.9 262.7,866.9 263.3,867.0 263.8,866.8 264.4,866.7 264.9,866.7 265.5,866.8 266.0,866.8 266.6,866.8 267.1,866.7 267.7,866.5 268.2,866.6 268.8,866.9 269.3,866.9 269.9,866.7 270.4,866.8 271.0,866.9 271.5,866.8 272.1,866.8 272.6,866.9 273.2,866.9 273.7,866.8 274.3,866.8 274.8,866.8 275.4,866.7 275.9,866.7 276.5,866.8 277.0,866.8 277.6,866.7 278.1,866.7 278.7,866.7 279.2,866.7 279.8,866.7 280.3,866.8 280.9,866.9 281.4,866.9 282.0,866.8 282.5,866.9 283.1,867.0 283.6,866.9 284.2,866.8 284.7,866.8 285.3,866.8 285.8,866.8 286.4,866.8 286.9,866.8 287.5,866.8 288.0,866.8 288.6,866.7 289.1,866.8 289.7,866.9 290.2,867.0 290.8,866.9 291.3,866.7 291.9,866.7 292.4,866.8 293.0,866.7 293.5,866.7 294.1,866.8 294.6,866.8 295.2,866.9 295.7,866.8 296.3,866.8 296.8,866.9 297.4,866.8 297.9,866.7 298.5,866.8 299.0,866.9 299.6,866.9 300.1,867.0 300.7,867.0 301.2,866.9 301.8,866.8 302.3,866.7 302.9,866.7 303.4,866.8 304.0,866.9 304.5,866.8 305.1,866.8 305.6,866.8 306.2,866.7 306.7,866.8 307.3,866.9 307.8,866.8 308.4,866.9 308.9,866.9 309.5,866.8 310.0,866.8 310.6,866.8 311.1,866.8 311.7,866.8 312.2,866.7 312.8,866.7 313.3,866.7 313.9,866.7 314.4,866.7 315.0,866.6 315.5,866.6 316.1,866.6 316.6,866.7 317.2,866.7 317.7,866.8 318.3,866.8 318.8,866.8 319.4,866.7 319.9,866.7 320.5,866.8 321.0,866.7 321.6,866.8 322.1,866.8 322.7,866.7 323.2,866.6 323.8,866.7 324.3,866.8 324.9,866.8 325.4,866.7 326.0,866.6 326.5,866.6 327.1,866.6 327.6,866.5 328.2,866.7 328.7,866.8 329.3,866.7 329.8,866.6 330.4,866.6 330.9,866.5 331.5,866.5 332.0,866.5 332.6,866.6 333.1,866.7 333.7,866.7 334.2,866.6 334.8,866.5 335.3,866.5 335.9,866.6 336.4,866.7 337.0,866.6 337.5,866.6 338.1,866.6 338.6,866.6 339.2,866.4 339.7,866.4 340.3,866.4 340.8,866.4 341.4,866.4 341.9,866.4 342.5,866.4 343.0,866.4 343.6,866.4 344.1,866.4 344.7,866.4 345.2,866.4 345.8,866.3 346.3,866.2 346.9,866.3 347.4,866.4 348.0,866.3 348.5,866.3 349.1,866.3 349.6,866.3 350.2,866.3 350.7,866.3 351.3,866.2 351.8,866.2 352.4,866.1 352.9,866.0 353.5,866.1 354.0,866.1 354.6,866.1 355.1,866.1 355.7,866.0 356.2,865.9 356.8,865.8 357.3,865.8 357.9,865.9 358.4,865.8 359.0,865.6 359.5,865.5 360.1,865.5 360.6,865.5 361.2,865.6 361.7,865.4 362.3,865.4 362.8,865.5 363.4,865.5 363.9,865.5 364.5,865.4 365.0,865.3 365.6,865.2 366.1,865.1 366.7,864.9 367.2,864.7 367.8,864.7 368.3,864.7 368.9,864.4 369.4,864.2 370.0,864.2 370.5,864.2 371.1,863.9 371.6,863.6 372.2,863.4 372.7,863.1 373.3,862.8 373.8,862.3 374.4,862.0 374.9,861.6 375.5,861.0 376.0,860.4 376.6,859.7 377.1,858.9 377.7,857.7 378.2,856.4 378.8,854.4 379.3,851.2 379.9,846.8 380.4,840.1 381.0,830.5 381.5,816.1 382.1,800.6 382.6,790.7 383.2,791.4 383.7,802.1 384.3,817.6 384.8,831.6 385.4,840.9 385.9,847.5 386.5,851.8 387.0,855.1 387.6,857.0 388.1,858.4 388.7,859.7 389.2,860.6 389.8,861.4 390.3,862.1 390.9,862.6 391.4,862.9 392.0,863.1 392.5,863.4 393.1,863.7 393.6,864.0 394.2,864.2 394.7,864.4 395.3,864.4 395.8,864.5 396.4,864.6 396.9,864.7 397.5,864.7 398.0,864.7 398.6,864.6 399.1,864.6 399.7,864.5 400.2,864.4 400.8,864.3 401.3,864.4 401.9,864.2 402.4,863.9 403.0,863.6 403.5,863.3 404.1,863.1 404.6,862.8 405.2,862.3 405.7,861.8 406.3,861.4 406.8,861.0 407.4,860.3 407.9,859.6 408.5,858.9 409.0,858.1 409.6,857.3 410.1,856.3 410.7,854.9 411.2,853.3 411.8,851.2 412.3,848.3 412.9,844.6 413.4,839.4 414.0,832.0 414.5,822.0 415.1,807.5 415.6,790.3 416.2,769.4 416.7,745.0 417.3,732.7 417.8,753.5 418.4,777.4 418.9,797.3 419.5,813.4 420.0,826.4 420.6,835.1 421.1,841.6 421.7,845.9 422.2,849.4 422.8,852.0 423.3,853.9 423.9,855.2 424.4,856.2 425.0,857.1 425.5,857.8 426.1,858.5 426.6,859.2 427.2,859.8 427.7,860.3 428.3,860.7 428.8,860.9 429.4,861.3 429.9,861.5 430.5,861.6 431.0,861.8 431.6,862.1 432.1,862.4 432.7,862.4 433.2,862.4 433.8,862.6 434.3,862.8 434.9,862.9 435.4,862.8 436.0,862.9 436.5,863.0 437.1,863.1 437.6,863.3 438.2,863.3 438.7,863.2 439.3,863.2 439.8,863.3 440.4,863.4 440.9,863.3 441.5,863.3 442.0,863.4 442.6,863.4 443.1,863.4 443.7,863.3 444.2,863.3 444.8,863.3 445.3,863.3 445.9,863.4 446.4,863.3 447.0,863.2 447.5,863.2 448.1,863.2 448.6,863.2 449.2,863.2 449.7,863.2 450.3,863.2 450.8,863.2 451.4,863.1 451.9,863.2 452.5,863.3 453.0,863.4 453.6,863.4 454.1,863.3 454.7,863.1 455.2,863.0 455.8,863.1 456.3,863.2 456.9,863.1 457.4,863.0 458.0,862.9 458.5,862.9 459.1,862.9 459.6,862.9 460.2,862.8 460.7,862.7 461.3,862.7 461.8,862.7 462.4,862.5 462.9,862.4 463.5,862.6 464.0,862.7 464.6,862.6 465.1,862.5 465.7,862.4 466.2,862.3 466.8,862.2 467.3,862.1 467.9,862.1 468.4,862.1 469.0,862.2 469.5,862.2 470.1,862.1 470.6,862.0 471.2,861.8 471.7,861.8 472.3,862.0 472.8,862.0 473.4,862.0 473.9,861.9 474.5,861.6 475.0,861.4 475.6,861.3 476.1,861.2 476.7,861.0 477.2,860.7 477.8,860.7 478.3,861.2 478.9,861.6 479.4,861.8 480.0,861.9 480.5,862.1 481.1,862.3 481.6,862.4 482.2,862.5 482.7,862.4 483.3,862.4 483.8,862.5 484.4,862.6 484.9,862.6 485.5,862.6 486.0,862.7 486.6,862.8 487.1,862.8 487.7,862.8 488.2,862.8 488.8,862.8 489.3,862.8 489.9,862.9 490.4,862.9 491.0,862.9 491.5,862.8 492.1,862.8 492.6,862.9 493.2,862.9 493.7,863.0 494.3,863.1 494.8,863.1 495.4,863.0 495.9,863.0 496.5,863.1 497.0,863.2 497.6,863.2 498.1,863.3 498.7,863.3 499.2,863.5 499.8,863.6 500.3,863.7 500.9,863.9 501.4,864.1 502.0,864.0 502.5,864.1 503.1,864.4 503.6,864.6 504.2,864.6 504.7,864.7 505.3,864.9 505.8,864.9 506.4,865.1 506.9,865.4 507.5,865.5 508.0,865.7 508.6,865.8 509.1,865.8 509.7,865.8 510.2,866.0 510.8,866.1 511.3,866.2 511.9,866.4 512.4,866.4 513.0,866.4 513.5,866.4" fill="none" stroke="#000" stroke-width="1.70" stroke-linejoin="round" stroke-linecap="round"/>
<g font-family='"Liberation Sans", Arial, Helvetica, sans-serif' font-weight="700" font-size="12.8" fill="#000">
<text transform="translate(130.0 344.9) scale(1.05 1)" text-anchor="middle">200</text>
<text transform="translate(130.0 899.6) scale(1.05 1)" text-anchor="middle">200</text>
<text transform="translate(198.8 344.9) scale(1.05 1)" text-anchor="middle">250</text>
<text transform="translate(198.8 899.6) scale(1.05 1)" text-anchor="middle">250</text>
<text transform="translate(267.5 344.9) scale(1.05 1)" text-anchor="middle">300</text>
<text transform="translate(267.5 899.6) scale(1.05 1)" text-anchor="middle">300</text>
<text transform="translate(336.3 344.9) scale(1.05 1)" text-anchor="middle">350</text>
<text transform="translate(336.3 899.6) scale(1.05 1)" text-anchor="middle">350</text>
<text transform="translate(405.1 344.9) scale(1.05 1)" text-anchor="middle">400</text>
<text transform="translate(405.1 899.6) scale(1.05 1)" text-anchor="middle">400</text>
<text transform="translate(473.8 344.9) scale(1.05 1)" text-anchor="middle">450</text>
<text transform="translate(473.8 899.6) scale(1.05 1)" text-anchor="middle">450</text>
<text transform="translate(83.4 514.1) scale(1.05 1)" text-anchor="end">0</text>
<text transform="translate(83.4 470.3) scale(1.05 1)" text-anchor="end">1100</text>
<text transform="translate(83.4 426.5) scale(1.05 1)" text-anchor="end">2200</text>
<text transform="translate(83.4 382.7) scale(1.05 1)" text-anchor="end">3300</text>
<text transform="translate(83.4 696.1) scale(1.05 1)" text-anchor="end">0</text>
<text transform="translate(83.4 650.3) scale(1.05 1)" text-anchor="end">690</text>
<text transform="translate(83.4 604.5) scale(1.05 1)" text-anchor="end">1380</text>
<text transform="translate(83.4 558.7) scale(1.05 1)" text-anchor="end">2070</text>
<text transform="translate(83.4 868.7) scale(1.05 1)" text-anchor="end">0</text>
<text transform="translate(83.4 824.5) scale(1.05 1)" text-anchor="end">8400</text>
<text transform="translate(83.4 780.3) scale(1.05 1)" text-anchor="end">16800</text>
<text transform="translate(83.4 736.1) scale(1.05 1)" text-anchor="end">25200</text>
<text x="140.2" y="385.0" font-size="12.9">MoS2/WSe2</text>
<text x="149.0" y="549.9" font-size="12.9">WSe2</text>
<text x="149.4" y="736.4" font-size="12.9">MoS2</text>
</g>
<path d="M112.5 380.6h24.3M121.2 545.5h22.6M121.2 732h22.6" stroke="#000" stroke-width="1.5" fill="none"/>
<g font-family='"Liberation Sans", Arial, Helvetica, sans-serif' font-weight="700" font-size="17" fill="#000">
<text transform="translate(40.7 440.5) rotate(-90)" text-anchor="middle" textLength="116" lengthAdjust="spacingAndGlyphs">Intensity (a.u.)</text>
<text transform="translate(40.7 619.8) rotate(-90)" text-anchor="middle" textLength="116" lengthAdjust="spacingAndGlyphs">Intensity (a.u.)</text>
<text transform="translate(40.7 791.4) rotate(-90)" text-anchor="middle" textLength="116" lengthAdjust="spacingAndGlyphs">Intensity (a.u.)</text>
<text x="230.6" y="929.0" textLength="142" lengthAdjust="spacingAndGlyphs">Wavelength (cm<tspan dx="1.6" dy="-8.6" font-size="9.2">-1</tspan><tspan dx="0.6" dy="8.6">)</tspan></text>
</g>
<g font-family='"Liberation Sans", Arial, Helvetica, sans-serif' font-weight="700" font-size="19" fill="#000">
<text x="1.0" y="13.4">a</text><text x="0.8" y="324.1" font-size="19.8">b</text></g>
</g>
</svg>
</body>
</html>
